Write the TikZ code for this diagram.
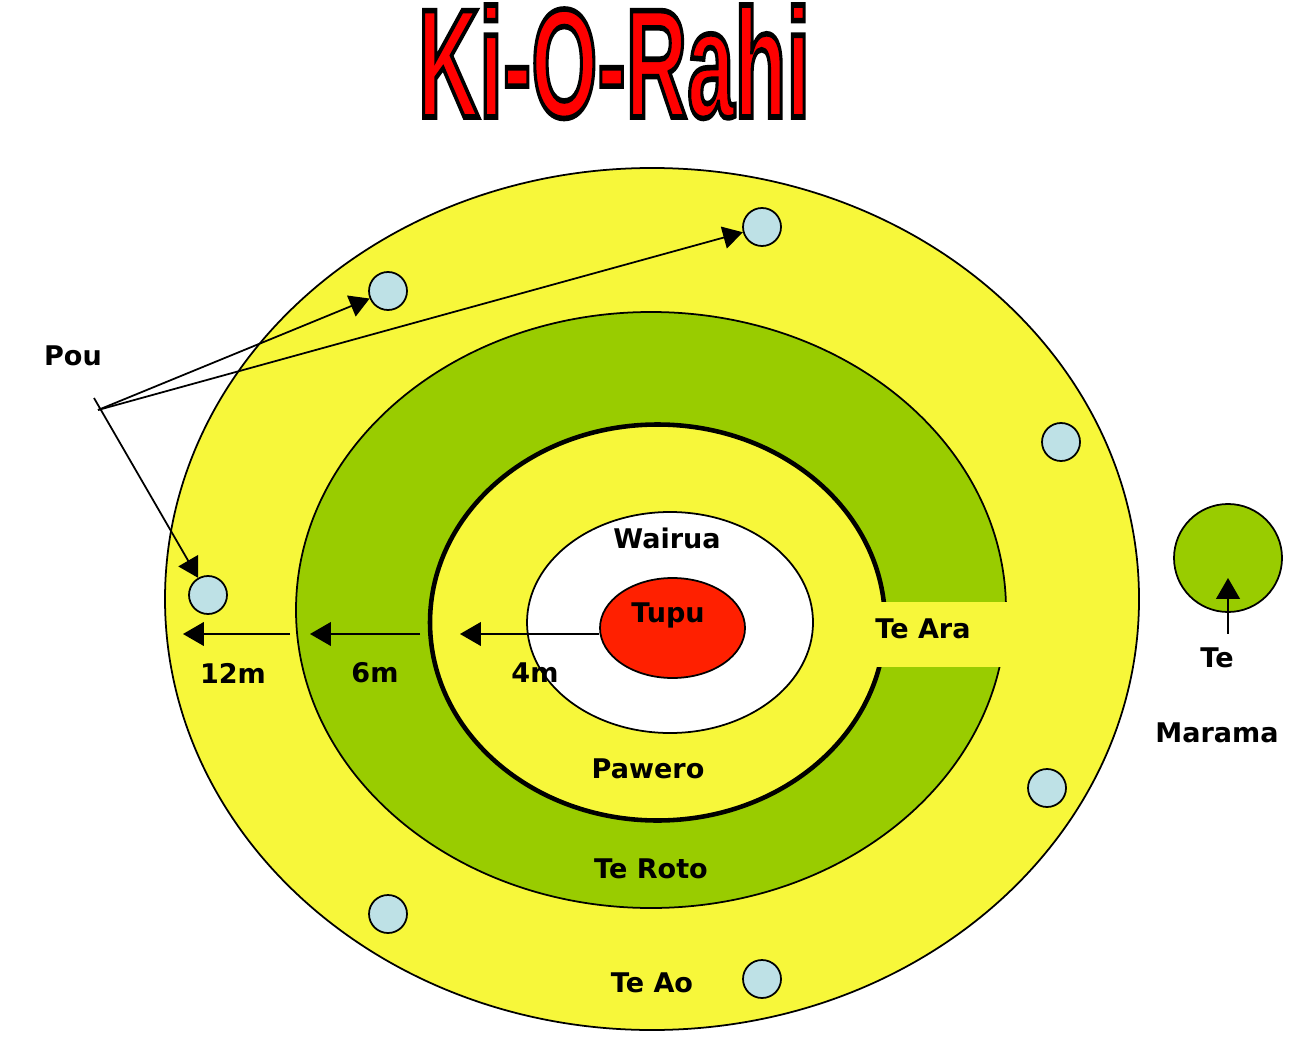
\documentclass[tikz,border=0pt]{standalone}
\usepackage{fontspec}
\setmainfont{DejaVu Sans}
\newfontfamily\titlefont{Liberation Sans}
\usetikzlibrary{arrows}
\usetikzlibrary{shapes.geometric}
\definecolor{fieldyellow}{RGB}{247,247,58}
\definecolor{fieldgreen}{RGB}{153,204,0}
\definecolor{tupured}{RGB}{255,32,0}
\definecolor{poublue}{RGB}{190,225,230}
\begin{document}
\begin{tikzpicture}[
        ring/.style={ellipse,draw=black,inner sep=0pt,line width=0.5pt},
        pou/.style={circle,draw=black,fill=poublue,minimum size=3.8mm,inner sep=0pt,line width=0.5pt},
        lbl/.style={font=\bfseries\fontsize{7.7}{9}\selectfont,inner sep=1pt},
        dist/.style={-triangle 60,line width=0.6pt}
      ]
      \useasboundingbox (0,0) rectangle (13.03,-10.40);
      % Title.
      \node[anchor=base,text=red,inner sep=0pt] (title) at (6.14,-1.17) {\scalebox{0.55}[1]{\titlefont\bfseries\fontsize{44}{44}\selectfont\special{pdf:literal direct 0 G 1.6 w 2 Tr}Ki-O-Rahi\special{pdf:literal direct 0 Tr}}};
      % Field.
      \node[ring,fill=fieldyellow,minimum width=9.74cm,minimum height=8.62cm] (ao) at (6.52,-5.99) {};
      \node[ring,fill=fieldgreen,minimum width=7.10cm,minimum height=5.96cm] (roto) at (6.51,-6.10) {};
      \node[ring,fill=fieldyellow,line width=1.3pt,minimum width=4.55cm,minimum height=3.96cm] (pa) at (6.575,-6.225) {};
      \fill[fieldyellow] (8.60,-6.02) rectangle (10.10,-6.67);
      \node[ring,fill=white,minimum width=2.86cm,minimum height=2.21cm] (wa) at (6.70,-6.225) {};
      \node[ring,fill=tupured,minimum width=1.45cm,minimum height=1.0cm] (tu) at (6.725,-6.28) {};
      \node[circle,draw=black,fill=fieldgreen,minimum size=1.08cm,line width=0.5pt] (marama) at (12.28,-5.58) {};
      % Pou.
      \foreach \n/\x/\y in {1/7.62/-2.27,2/3.88/-2.91,3/10.61/-4.42,4/2.08/-5.95,5/10.47/-7.88,6/3.88/-9.14,7/7.62/-9.79}
        \node[pou] (pou\n) at (\x,\y) {};
      % Labels.
      \node[lbl] (wal) at (6.67,-5.38) {Wairua};
      \node[lbl] (tul) at (6.68,-6.15) {Tupu};
      \node[lbl] (aral) at (9.23,-6.29) {Te Ara};
      \node[lbl] (pal) at (6.48,-7.69) {Pawero};
      \node[lbl] (rotol) at (6.51,-8.69) {Te Roto};
      \node[lbl] (aol) at (6.52,-9.83) {Te Ao};
      \node[lbl] (poul) at (0.73,-3.56) {Pou};
      \node[lbl] (te) at (12.17,-6.58) {Te};
      \node[lbl] (maramal) at (12.17,-7.33) {Marama};
      \node[lbl] (m12) at (2.33,-6.73) {12m};
      \node[lbl] (m6) at (3.75,-6.73) {6m};
      \node[lbl] (m4) at (5.35,-6.73) {4m};
      % Distances.
      \coordinate (s12) at (2.90,-6.34);
      \coordinate (d12) at (1.83,-6.34);
      \coordinate (s6) at (4.20,-6.34);
      \coordinate (d6) at (3.10,-6.34);
      \coordinate (d4) at (4.60,-6.34);
      \draw[dist] (s12) -- (d12);
      \draw[dist] (s6) -- (d6);
      \draw[dist] (tu.west |- d4) -- (d4);
      % Pou pointers.
      \coordinate (pb) at (0.98,-4.10);
      \coordinate (pb2) at (0.94,-3.98);
      \draw[-triangle 60,line width=0.5pt] (pb) -- (pou2);
      \draw[-triangle 60,line width=0.5pt] (pb) -- (pou1);
      \draw[-triangle 60,line width=0.5pt] (pb2) -- (pou4);
      \draw[dist,shorten >=0.2cm] ([yshift=0.1cm]marama.center |- te.north) -- (marama.center);
    \end{tikzpicture}
\end{document}
